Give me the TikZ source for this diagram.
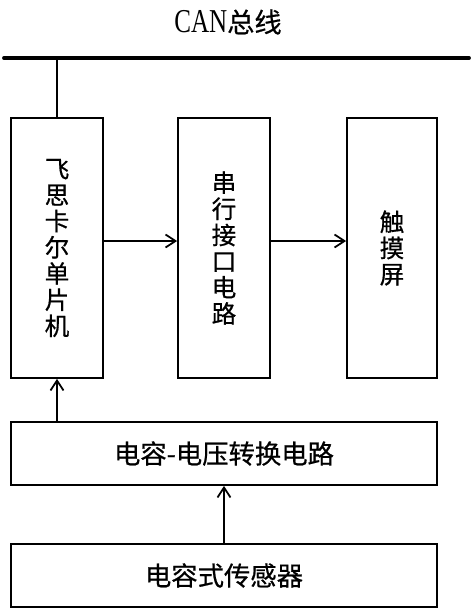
\documentclass[tikz,border=0pt]{standalone}
\usepackage{fontspec}
\setmainfont{Noto Sans CJK SC}[FakeBold=0.6]
\newfontfamily\canfont{Liberation Serif}
\usetikzlibrary{positioning}
\usetikzlibrary{arrows.meta}

\tikzset{
  kuang/.style={draw, line width=1pt, rectangle, align=center,
    font=\fontsize{14}{14.9}\selectfont},
  lian/.style={-{Straight Barb[length=2mm, width=2.6mm]}, line width=1pt}
}

\begin{document}
\begin{tikzpicture}[x=0.02cm, y=-0.02cm]
  \useasboundingbox (0,0) rectangle (474,609);
  % 总线
  \node (title) at (228,22) {{\canfont\fontsize{19}{20}\selectfont\addfontfeature{FakeStretch=0.75}CAN}\fontsize{15.5}{17}\selectfont 总线};
  \draw[line width=2.2pt, line cap=round] (4,58) -- (469,58);
  \coordinate (busjoin) at (57,58);

  % 方框
  \node[kuang, minimum width=1.84cm, minimum height=5.2cm] (fsk) at (57,248)
    {飞\\思\\卡\\尔\\单\\片\\机};
  \node[kuang, minimum width=1.84cm, minimum height=5.2cm] (chk) at (224,248)
    {串\\行\\接\\口\\电\\路};
  \node[kuang, minimum width=1.8cm, minimum height=5.2cm] (cmp) at (392,248)
    {触\\摸\\屏};
  \node[kuang, minimum width=8.52cm, minimum height=1.26cm,
    font=\fontsize{15}{17}\selectfont] (conv) at (224,453.5) {电容-电压转换电路};
  \node[kuang, minimum width=8.52cm, minimum height=1.26cm,
    font=\fontsize{15}{17}\selectfont] (sensor) at (224,575.5) {电容式传感器};

  % 连线
  \draw[line width=1pt] (busjoin) -- (fsk.north);
  \draw[lian] ([yshift=0.14cm]fsk.east) -- ([yshift=0.14cm]chk.west);
  \draw[lian] ([yshift=0.14cm]chk.east) -- ([yshift=0.14cm]cmp.west);
  \draw[lian] (fsk.south |- conv.north) -- (fsk.south);
  \draw[lian] (sensor.north) -- (conv.south);
\end{tikzpicture}
\end{document}
